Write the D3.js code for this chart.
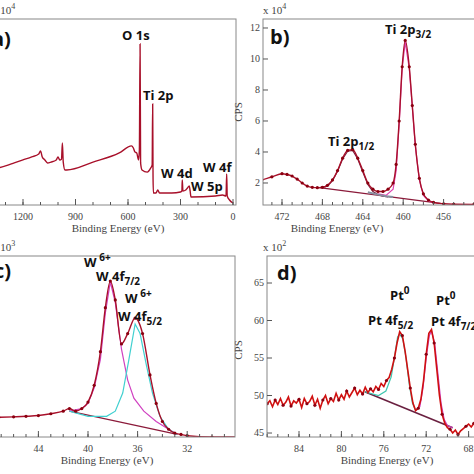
<!DOCTYPE html>
<html>
<head>
<meta charset="utf-8">
<style>
  body { margin: 0; background: #fff; }
  .ax text { font-family: "Liberation Serif", serif; font-size: 10px; fill: #444; }
  .lbl { font-family: "Liberation Serif", serif; font-size: 11px; fill: #444; }
  .pk { font-family: "Open Sans", sans-serif; font-weight: bold; font-size: 13px; fill: #111; }
  .pl { font-family: "Open Sans", sans-serif; font-weight: bold; font-size: 20px; fill: #111; }
</style>
</head>
<body>
<script src="https://cdn.jsdelivr.net/npm/d3@7"></script>
<script>
// a) survey, counts x10^4
var surveyA = [[1340,2.59],[1300,2.73],[1250,2.94],[1200,3.15],[1150,3.36],[1110,3.57],[1100,3.78],[1090,3.36],[1075,3.15],[1060,2.94],[1040,3.0],[1010,3.15],[1000,3.36],[990,3.15],[980,3.2],[975,4.34],[970,3.0],[960,2.45],[950,2.45],[800,3.0],[650,3.64],[580,4.13],[570,4.0],[560,3.7],[550,3.64],[540,3.15],[535,3.85],[531,11.26],[528,2.94],[520,2.45],[490,2.3],[470,2.59],[462,2.8],[459,7.06],[457,2.1],[455,0.84],[440,0.84],[430,1.05],[420,0.84],[350,0.84],[300,0.91],[292,0.98],[290,1.75],[286,0.98],[270,1.05],[260,1.19],[250,1.33],[245,0.98],[240,0.56],[100,0.63],[60,0.7],[40,0.63],[36,2.17],[33,0.63],[20,0.35],[0,0.14]];

// b) Ti 2p, x10^4
var envB = [[474.5,2.15],[474,2.2],[473,2.4],[472,2.6],[471.5,2.55],[471,2.45],[470.5,2.25],[470,2.0],[469.5,1.8],[469,1.72],[468.5,1.7],[468,1.72],[467.5,1.85],[467,2.2],[466.5,2.8],[466,3.6],[465.5,4.1],[465,4.15],[464.5,3.6],[464,2.8],[463.5,2.0],[463,1.6],[462.5,1.45],[462,1.45],[461.5,1.6],[461,2.0],[460.7,3.2],[460.4,6.0],[460.1,9.5],[459.8,11.2],[459.4,9.5],[459.1,7.0],[458.8,4.5],[458.4,2.3],[458,1.3],[457.5,0.9],[457,0.75],[456,0.66],[455,0.63],[453,0.62]];
var bgB = [[468.3,1.7],[456.3,0.68]];
var c32B = [[462.5,1.3],[461.7,1.2],[461,1.6],[460.7,2.8],[460.4,5.8],[460.1,9.4],[459.8,11.1],[459.4,9.4],[459.1,6.9],[458.8,4.4],[458.4,2.2],[458,1.2],[457.5,0.85],[457,0.72]];
var c12B = [[468.3,1.7],[467.5,1.8],[467,2.15],[466.5,2.75],[466,3.55],[465.5,4.05],[465,4.1],[464.5,3.55],[464,2.7],[463.5,1.9],[463,1.45],[462.5,1.25],[462,1.15],[461.5,1.1]];
var ticksB = [472,468,464,460,456,452];
var yTicksB = [2,4,6,8,10,12];

// c) W 4f, x10^3
var envC = [[47.2,1.76],[46,1.78],[45,1.8],[44,1.83],[43,1.9],[42,2.0],[41.5,2.1],[41,2.0],[40.5,2.1],[40,2.35],[39.5,3.0],[39,4.3],[38.6,6.0],[38.2,7.03],[37.8,6.3],[37.3,4.6],[36.8,5.0],[36.2,5.6],[35.6,5.0],[35,3.4],[34.5,2.3],[34,1.6],[33.5,1.3],[33,1.15],[32.5,1.1],[32,1.05],[30,1.0],[28,1.0]];
var bgC = [[41.5,2.0],[32.8,1.1]];
var c72C = [[41.5,2.0],[40.5,2.1],[40,2.3],[39.5,2.9],[39,4.0],[38.6,5.8],[38.2,7.0],[37.8,6.2],[37.3,4.4],[36.8,3.2],[36.3,2.5],[35.5,2.0],[34.5,1.6],[33.5,1.3],[32.8,1.1]];
var c52C = [[41.5,2.0],[40,1.8],[38.5,1.8],[37.8,2.0],[37.2,2.7],[36.7,4.0],[36.2,5.37],[35.8,5.0],[35.3,3.8],[34.8,2.7],[34.2,1.8],[33.5,1.3],[32.8,1.1]];
var ticksC = [44,40,36,32];

// d) Pt 4f, x10^2
var rawD = [[87,48.9],[86.75,49.3],[86.5,48.5],[86.25,49.4],[86,48.8],[85.75,49.6],[85.5,48.7],[85.25,49.1],[85,49.8],[84.75,48.6],[84.5,49.3],[84.25,49.0],[84,49.5],[83.75,48.4],[83.5,49.6],[83.25,48.9],[83,49.2],[82.75,49.9],[82.5,48.7],[82.25,49.5],[82,48.3],[81.75,49.4],[81.5,50.0],[81.25,48.9],[81,49.6],[80.75,49.2],[80.5,50.3],[80.25,49.4],[80,50.1],[79.75,49.5],[79.5,50.6],[79.25,49.8],[79,50.4],[78.75,51.0],[78.5,50.1],[78.25,50.7],[78,50.2],[77.75,51.1],[77.5,50.4],[77.25,50.9],[77,50.5],[76.75,51.2],[76.5,50.8],[76.25,51.6],[76,51.2],[75.75,52.0],[75.5,52.4],[75.25,53.5],[75,55.0],[74.75,57.0],[74.5,58.5],[74.25,58.0],[74,56.0],[73.75,53.5],[73.5,51.0],[73.25,49.0],[73,48.0],[72.75,48.3],[72.5,49.5],[72.25,52.0],[72,55.5],[71.75,58.3],[71.5,58.8],[71.25,57.0],[71,53.5],[70.75,50.0],[70.5,47.5],[70.25,46.3],[70,45.7],[69.75,45.5],[69.5,45.0],[69.25,45.4],[69,44.8],[68.75,45.3],[68.5,45.6],[68.25,45.9],[68,46.2],[67.75,45.8],[67.5,46.3]];
var bgD = [[77.8,50.5],[69.5,45.7]];
var c52D = [[77.8,50.5],[76.5,50.0],[75.8,50.6],[75.3,52.5],[75,55.0],[74.7,57.8],[74.5,58.2],[74.2,57.5],[73.9,55.0],[73.6,51.5],[73.3,49.0],[73,48.0]];
var c72D = [[73,48.0],[72.6,48.5],[72.3,51.0],[72,55.0],[71.7,58.0],[71.5,58.6],[71.2,57.0],[70.9,53.0],[70.6,49.0],[70.3,46.8],[70,46.0],[69.5,45.7]];
var ticksD = [84,80,76,72,68];
var yTicksD = [45,50,55,60,65];

var svg = d3.select("body").append("svg").attr("width", 474).attr("height", 474);
var line = function(x, y) { return d3.line().x(d => x(d[0])).y(d => y(d[1])); };

function panel(o) {
  var g = svg.append("g");
  var id = "clip" + o.name;
  svg.append("clipPath").attr("id", id).append("rect")
    .attr("x", o.l).attr("y", o.t).attr("width", o.r - o.l).attr("height", o.b - o.t);
  var x = d3.scaleLinear().domain(o.xd).range(o.xr);
  var y = d3.scaleLinear().domain(o.yd).range([o.b, o.t]);
  var p = g.append("g").attr("clip-path", "url(#" + id + ")");
  (o.comps || []).forEach(c => p.append("path").attr("d", line(x, y)(c.d))
    .attr("fill", "none").attr("stroke", c.c).attr("stroke-width", c.w || 1.2));
  if (o.raw) p.append("path").attr("d", line(x, y)(o.raw)).attr("fill", "none").attr("stroke", "#d01010").attr("stroke-width", 1.6);
  p.append("path").attr("d", line(x, y).curve(d3.curveMonotoneX)(o.env)).attr("fill", "none").attr("stroke", "#a8102a").attr("stroke-width", 1.4);
  if (o.dots) p.selectAll("circle").data(o.dots).join("circle")
    .attr("cx", d => x(d[0])).attr("cy", d => y(d[1])).attr("r", 1.6).attr("fill", "#8b0010");
  g.append("rect").attr("x", o.l).attr("y", o.t).attr("width", o.r - o.l).attr("height", o.b - o.t)
    .attr("fill", "none").attr("stroke", "#888").attr("stroke-width", 1);
  var ax = g.append("g").attr("class", "ax");
  var minor = d3.range(o.xd[0], o.xd[1], (o.xd[1] - o.xd[0]) / (o.xt.length - 1) / o.sub);
  var xe = x.invert(o.l), xe2 = x.invert(o.r);
  var lo = Math.min(xe, xe2), hi = Math.max(xe, xe2), st = Math.abs(minor[1] - minor[0]);
  d3.range(Math.ceil(lo / st) * st, hi, st).forEach(v => ax.append("line")
    .attr("x1", x(v)).attr("x2", x(v)).attr("y1", o.b).attr("y2", o.b - 3).attr("stroke", "#555"));
  o.xt.forEach(v => {
    ax.append("line").attr("x1", x(v)).attr("x2", x(v)).attr("y1", o.b).attr("y2", o.b - 6).attr("stroke", "#555");
    ax.append("text").attr("x", x(v)).attr("y", o.b + 15).attr("text-anchor", "middle").text(v);
  });
  (o.yt || []).forEach(v => {
    ax.append("line").attr("x1", o.l).attr("x2", o.l + 5).attr("y1", y(v)).attr("y2", y(v)).attr("stroke", "#555");
    ax.append("text").attr("x", o.l - 3).attr("y", y(v) + 3).attr("text-anchor", "end").attr("font-size", 9).text(v);
  });
  g.append("text").attr("class", "lbl").attr("x", o.lx).attr("y", o.b + 27).attr("text-anchor", "middle").text("Binding Energy (eV)");
  return g;
}

panel({name: "a", l: -5, r: 236, t: 19, b: 205, xd: [1200, 0], xr: [23, 233], yd: [0, 13],
  xt: [1200, 900, 600, 300, 0], sub: 3, env: surveyA, lx: 118});
panel({name: "b", l: 263, r: 480, t: 19, b: 205, xd: [472, 452], xr: [282, 484], yd: [0.58, 12.58],
  xt: ticksB, sub: 4, yt: yTicksB, env: envB, dots: envB, lx: 337,
  comps: [{d: bgB, c: "#8b1a3a"}, {d: c12B, c: "#7a2040"}, {d: c32B, c: "#e040b0"}, {d: [[463.5,1.4],[462.5,1.25],[461.7,1.15],[461,1.1]], c: "#8890a0", w: 2}]});
panel({name: "c", l: -5, r: 235, t: 256, b: 437, xd: [44, 32], xr: [38.4, 187.2], yd: [1, 8],
  xt: ticksC, sub: 4, env: envC, dots: envC, lx: 107,
  comps: [{d: bgC, c: "#8b1a3a"}, {d: c72C, c: "#d040c0"}, {d: c52C, c: "#40d0d0"}]});
panel({name: "d", l: 267, r: 480, t: 256, b: 437, xd: [84, 68], xr: [299, 468.6], yd: [44.47, 68.6],
  xt: ticksD, sub: 4, yt: yTicksD, env: [], raw: rawD, dots: rawD.filter((d, i) => i % 3 == 0), lx: 387,
  comps: [{d: bgD, c: "#6a2040", w: 1.6}, {d: c52D, c: "#40c8b0"}, {d: c72D, c: "#d040c0"}]});

function mult(x, y, e, pre) {
  var t = svg.append("text").attr("class", "lbl").attr("x", x).attr("y", y).attr("font-size", 10);
  t.append("tspan").text(pre + "10");
  t.append("tspan").attr("dy", -5).attr("font-size", 8).text(e);
}
mult(-8, 14, "4", "x ");
mult(263, 14, "4", "x ");
mult(-8, 251, "3", "x ");
mult(263, 251, "2", "x ");
[[242, 112], [242, 350]].forEach(p => svg.append("text").attr("class", "lbl")
  .attr("transform", "translate(" + p[0] + "," + p[1] + ") rotate(-90)").attr("text-anchor", "middle").text("CPS"));

[["a)", -8, 46], ["b)", 270, 44], ["c)", -6, 278], ["d)", 277, 280]].forEach(p =>
  svg.append("text").attr("class", "pl").attr("x", p[1]).attr("y", p[2]).text(p[0]));

function pk(x, y, main, sub, anchor) {
  var t = svg.append("text").attr("class", "pk").attr("x", x).attr("y", y).attr("text-anchor", anchor || "start");
  t.append("tspan").text(main);
  if (sub) t.append("tspan").attr("dy", 4).attr("font-size", 10).text(sub);
  return t;
}
function sup(x, y, main, s) {
  var t = svg.append("text").attr("class", "pk").attr("x", x).attr("y", y);
  t.append("tspan").text(main);
  t.append("tspan").attr("dy", -6).attr("font-size", 10).text(s);
}
pk(122, 40, "O 1s");
pk(143, 100, "Ti 2p");
pk(161, 178, "W 4d");
pk(191, 191, "W 5p");
pk(203, 172, "W 4f");
pk(385, 34, "Ti 2p", "3/2");
pk(328, 146, "Ti 2p", "1/2");
sup(84, 267, "W", " 6+");
pk(96, 281, "W 4f", "7/2");
sup(125, 303, "W", " 6+");
pk(118, 321, "W 4f", "5/2");
sup(390, 300, "Pt", "0");
pk(368, 325, "Pt 4f", "5/2");
sup(436, 305, "Pt", "0");
pk(431, 326, "Pt 4f", "7/2");
</script>
</body>
</html>
